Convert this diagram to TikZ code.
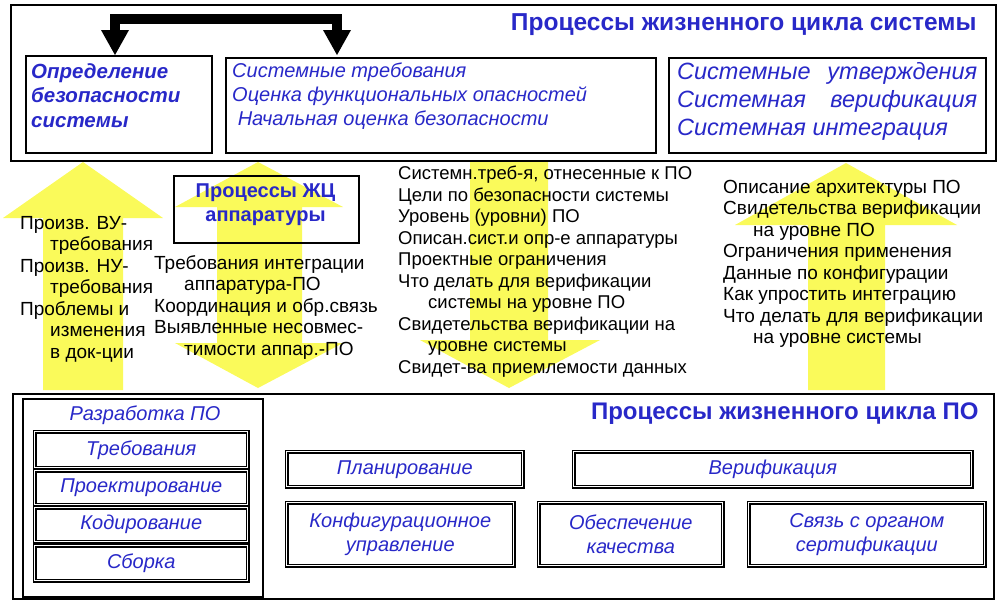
\documentclass[tikz,border=0pt]{standalone}
\usepackage{fontspec}
\setmainfont{Liberation Sans}
\usetikzlibrary{calc}
\definecolor{yel}{RGB}{250,250,90}
\definecolor{bl}{RGB}{40,40,200}
\tikzset{
 box/.style={draw=black,line width=2.2pt},
 ibox/.style={draw=black,line width=1.6pt,double=white,double distance=0.8pt},
 yarrow/.style={fill=yel,draw=none},
 btxt/.style={text=bl,font=\fontsize{20}{24}\selectfont\itshape},
 ttxt/.style={text=black,font=\fontsize{19}{21.5}\selectfont,align=left,anchor=north west,inner sep=0},
}
\begin{document}
\begin{tikzpicture}[x=1pt,y=-1pt]
\useasboundingbox (0,0) rectangle (1000,603);
% yellow arrows
\fill[yarrow] (43,390) -- (43,218) -- (3,218) -- (83,162) -- (163,218) -- (123,218) -- (123,390) -- cycle;
\fill[yarrow] (217,207) -- (175,207) -- (258,162) -- (343,207) -- (302,207) -- (302,343) -- (343,343) -- (258,388) -- (175,343) -- (217,343) -- cycle;
\fill[yarrow] (470,160) -- (548,160) -- (548,340) -- (600,340) -- (509,388) -- (420,340) -- (470,340) -- cycle;
\fill[yarrow] (808,390) -- (808,225) -- (735,225) -- (846,163) -- (957,225) -- (885,225) -- (885,390) -- cycle;
% top
\node[box,minimum width=985,minimum height=156,anchor=north west] (sys) at (10,4) {};
\node[text=bl,font=\fontsize{24.5}{28}\selectfont\bfseries,anchor=east] (systitle) at (980,25) {Процессы жизненного цикла системы};
\node[box,minimum width=186,minimum height=97,anchor=north west] (def) at (25,55) {};
\node[btxt,font=\fontsize{20.5}{24.5}\selectfont\bfseries\itshape,align=left,anchor=north west,inner sep=0] (deft) at (31,63) {Определение\\безопасности\\системы};
\node[box,minimum width=430,minimum height=95,anchor=north west] (req) at (225,57) {};
\node[btxt,align=left,anchor=north west,inner sep=0] (reqt) at (232,63) {Системные требования\\Оценка функциональных опасностей\\\ Начальная оценка безопасности};
\node[box,minimum width=317,minimum height=95,anchor=north west] (val) at (668,57) {};
\node[btxt,font=\fontsize{23.5}{28}\selectfont\itshape,align=left,anchor=north west,inner sep=0] (valt) at (677,62) {\makebox[300pt][s]{Системные\hfill утверждения}\\\makebox[300pt][s]{Системная\hfill верификация}\\Системная интеграция};
% black arrow
\coordinate (ba) at (115,19); \coordinate (bb) at (337,19);
\draw[line width=10pt] ($(ba)+(-5,0)$) -- ($(bb)+(5,0)$);
\fill ($(ba)+(-5,0)$) rectangle ($(ba)+(5,12)$);
\fill ($(bb)+(-5,0)$) rectangle ($(bb)+(5,12)$);
\fill (101,30) -- (129,30) -- (115,55) -- cycle;
\fill (323,30) -- (351,30) -- (337,55) -- cycle;
% hardware
\node[box,minimum width=185,minimum height=67,anchor=north west,fill=none] (hw) at (173,175) {};
\node[text=bl,font=\fontsize{20}{24}\selectfont\bfseries,align=center] (hwt) at (265.5,205) {Процессы ЖЦ\\аппаратуры};
% texts
\node[ttxt] (t1) at (20,216) {Произв. ВУ-\\\hspace{30pt}требования\\Произв. НУ-\\\hspace{30pt}требования\\Проблемы и\\\hspace{30pt}изменения\\\hspace{30pt}в док-ции};
\node[ttxt] (t2) at (154,255) {Требования интеграции\\\hspace{30pt}аппаратура-ПО\\Координация и обр.связь\\Выявленные несовмес-\\\hspace{30pt}тимости аппар.-ПО};
\node[ttxt,font=\fontsize{18.5}{21.5}\selectfont] (t3) at (398,166) {Системн.треб-я, отнесенные к ПО\\Цели по безопасности системы\\Уровень (уровни) ПО\\Описан.сист.и опр-е аппаратуры\\Проектные ограничения\\Что делать для верификации\\\hspace{30pt}системы на уровне ПО\\Свидетельства верификации на\\\hspace{30pt}уровне системы\\Свидет-ва приемлемости данных};
\node[ttxt] (t4) at (723,180) {Описание архитектуры ПО\\Свидетельства верификации\\\hspace{30pt}на уровне ПО\\Ограничения применения\\Данные по конфигурации\\Как упростить интеграцию\\Что делать для верификации\\\hspace{30pt}на уровне системы};
% bottom
\node[box,minimum width=981,minimum height=205,anchor=north west] (sw) at (12,393) {};
\node[text=bl,font=\fontsize{24}{28}\selectfont\bfseries,anchor=east] (swtitle) at (982,414) {Процессы жизненного цикла ПО};
\node[box,line width=1.6pt,minimum width=240,minimum height=198,anchor=north west] (dev) at (22,398) {};
\node[btxt] (devt) at (145,415) {Разработка ПО};
\foreach \n/\t/\ya/\yb in {r1/Требования/431/467, r2/Проектирование/470/504, r3/Кодирование/507/541, r4/Сборка/545/580}{
 \node[ibox,minimum width=213,minimum height=\yb-\ya,anchor=north west,btxt] (\n) at (34,\ya) {\t};
}
\node[ibox,minimum width=236,minimum height=35,anchor=north west,btxt] (plan) at (286,451) {Планирование};
\node[ibox,minimum width=398,minimum height=35,anchor=north west,btxt] (ver) at (573,451) {Верификация};
\node[ibox,minimum width=227,minimum height=63,anchor=north west,btxt,align=center] (cfg) at (286,502) {Конфигурационное\\управление};
\node[ibox,minimum width=184,minimum height=63,anchor=north west,btxt,align=center] (qa) at (538,502) {Обеспечение\\качества};
\node[ibox,minimum width=236,minimum height=63,anchor=north west,btxt,align=center] (cert) at (748,502) {Связь с органом\\сертификации};
\end{tikzpicture}
\end{document}
